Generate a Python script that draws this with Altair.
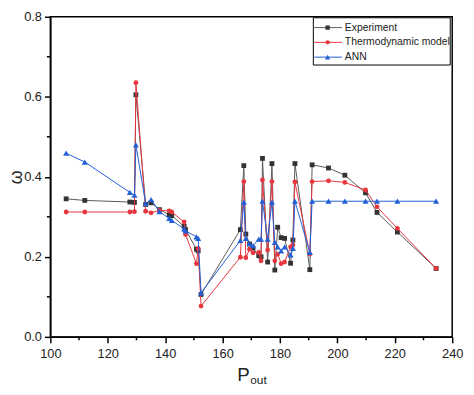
import altair as alt
import pandas as pd

# ---- data ----
p_out = [105.5, 112.0, 127.7, 129.3, 129.8, 133.2, 135.1, 138.0, 141.4, 142.3,
         146.6, 147.1, 150.9, 151.5, 152.5, 166.2, 167.4, 168.1, 169.4, 170.6,
         172.6, 173.4, 173.9, 175.7, 177.2, 178.2, 179.2, 180.4, 181.6, 183.7,
         184.5, 185.2, 190.4, 191.2, 196.9, 202.6, 209.8, 213.8, 220.9, 234.4]
experiment = [0.345, 0.341, 0.337, 0.336, 0.605, 0.331, 0.335, 0.318, 0.305, 0.303,
              0.276, 0.268, 0.219, 0.215, 0.106, 0.268, 0.428, 0.257, 0.232, 0.222,
              0.203, 0.200, 0.446, 0.187, 0.433, 0.167, 0.274, 0.248, 0.246, 0.184,
              0.242, 0.433, 0.168, 0.430, 0.422, 0.404, 0.360, 0.311, 0.262, 0.171]
thermo = [0.312, 0.312, 0.312, 0.313, 0.635, 0.314, 0.310, 0.316, 0.315, 0.312,
          0.287, 0.256, 0.183, 0.221, 0.077, 0.199, 0.388, 0.198, 0.219, 0.210,
          0.211, 0.190, 0.392, 0.217, 0.388, 0.190, 0.207, 0.183, 0.187, 0.225,
          0.230, 0.387, 0.207, 0.388, 0.390, 0.386, 0.367, 0.325, 0.271, 0.171]
ann = [0.459, 0.437, 0.361, 0.354, 0.480, 0.333, 0.343, 0.313, 0.296, 0.291,
       0.270, 0.265, 0.250, 0.246, 0.110, 0.241, 0.337, 0.246, 0.233, 0.228,
       0.244, 0.244, 0.339, 0.244, 0.337, 0.236, 0.225, 0.215, 0.225, 0.205,
       0.221, 0.339, 0.211, 0.339, 0.339, 0.339, 0.339, 0.339, 0.339, 0.339]
series_names = ["Experiment", "Thermodynamic model", "ANN"]
x_ticks = [100, 120, 140, 160, 180, 200, 220, 240]
x_minor = [110, 130, 150, 170, 190, 210, 230]
y_ticks = [0.0, 0.2, 0.4, 0.6, 0.8]
y_minor = [0.1, 0.3, 0.5, 0.7]

# ---- styles ----
line_colors = ["#5a5a5a", "#e8363f", "#2260d8"]
mark_colors = ["#333333", "#e8363f", "#2260d8"]
shapes = ["square", "circle", "triangle-up"]
sizes = [24, 24, 38]
FONT = "Liberation Sans"
W, H = 408, 325
TOP = 6

xscale = alt.Scale(domain=[100, 240], nice=False, zero=False)
yscale = alt.Scale(domain=[0, 0.8], nice=False)

x_axis = alt.Axis(values=x_ticks, title=None, grid=False, format="d", labelPadding=5)
y_axis = alt.Axis(values=y_ticks, title=None, grid=False, format=".1f", labelPadding=3)


def X(field="P"):
    return alt.X(f"{field}:Q", scale=xscale, axis=x_axis)


def Y(field="w"):
    return alt.Y(f"{field}:Q", scale=yscale, axis=y_axis)


layers = []
all_vals = [experiment, thermo, ann]
for k, name in enumerate(series_names):
    d = pd.DataFrame({"P": p_out, "w": all_vals[k], "idx": list(range(len(p_out)))})
    base = alt.Chart(d)
    ln = base.mark_line(color=line_colors[k], strokeWidth=1).encode(
        x=X(), y=Y(), order="idx:Q")
    pt = base.mark_point(filled=True, shape=shapes[k], size=sizes[k],
                         color=mark_colors[k], opacity=1).encode(x=X(), y=Y())
    layers += [ln, pt]

# minor ticks
xm = alt.Chart(pd.DataFrame({"P": x_minor})).mark_rule(color="black", strokeWidth=1.5).encode(
    x=X(), y=alt.value(H), y2=alt.value(H + 3.5))
ym = alt.Chart(pd.DataFrame({"w": y_minor})).mark_rule(color="black", strokeWidth=1.5).encode(
    y=Y(), x=alt.value(-3.5), x2=alt.value(0))
layers += [xm, ym]

# axis titles
one = pd.DataFrame({"a": [0]})
tP = alt.Chart(one).mark_text(text="P", font=FONT, fontSize=19, color="#222222",
                              align="center", baseline="alphabetic").encode(
    x=alt.value(196), y=alt.value(370))
tout = alt.Chart(one).mark_text(text="out", font=FONT, fontSize=12, color="#222222",
                                align="left", baseline="alphabetic").encode(
    x=alt.value(203), y=alt.value(373))
tw = alt.Chart(one).mark_text(text="ω", font=FONT, fontSize=18, color="#222222",
                              align="center", baseline="middle", angle=270).encode(
    x=alt.value(-34), y=alt.value(163))
layers += [tP, tout, tw]

# legend
box = alt.Chart(one).mark_rect(fill="white", stroke="black", strokeWidth=1).encode(
    x=alt.value(267), x2=alt.value(406), y=alt.value(1), y2=alt.value(49))
layers.append(box)
for k, name in enumerate(series_names):
    yy = 11 + 15 * k
    layers.append(alt.Chart(one).mark_rule(color=line_colors[k], strokeWidth=1).encode(
        x=alt.value(268), x2=alt.value(296), y=alt.value(yy)))
    layers.append(alt.Chart(one).mark_point(filled=True, shape=shapes[k], size=sizes[k] * 0.8,
                                            color=mark_colors[k], opacity=1).encode(
        x=alt.value(281.5), y=alt.value(yy)))
    layers.append(alt.Chart(one).mark_text(text=name, font=FONT, fontSize=10.5, color="#222222",
                                           align="left", baseline="middle").encode(
        x=alt.value(299), y=alt.value(yy)))

chart = alt.layer(*layers).properties(
    width=W, height=H,
    autosize=alt.AutoSizeParams(type="none"),
    padding={"left": 43, "top": TOP, "right": 14, "bottom": 48},
).configure_view(
    stroke="black", strokeWidth=1.5
).configure_axis(
    tickSize=6, tickWidth=1.5, tickColor="black", domainColor="black", domainWidth=1.5,
    labelFont=FONT, labelFontSize=13, labelColor="#222222",
    labelFlush=False, grid=False
)

chart.save("out.html", embed_options={"renderer": "svg", "actions": False})
